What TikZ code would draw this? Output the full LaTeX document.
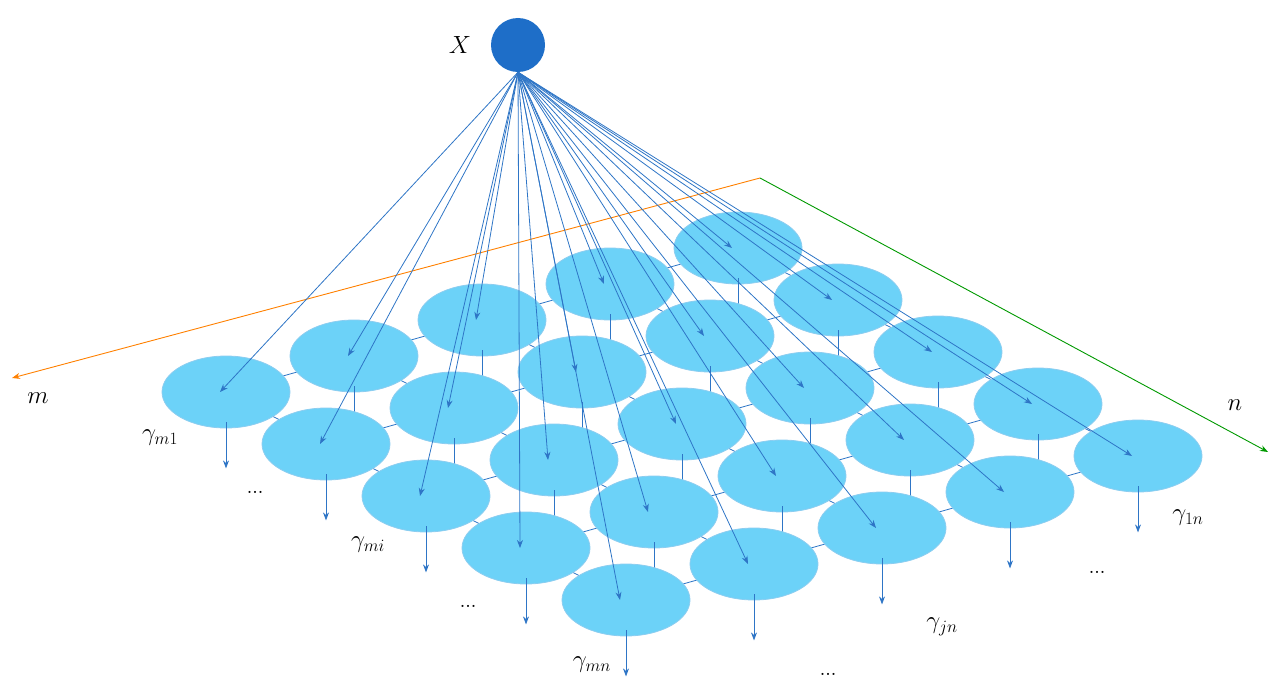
\documentclass[tikz,border=0pt]{standalone}
\usetikzlibrary{shapes.geometric,arrows.meta}
\definecolor{ab}{RGB}{46,117,198}
\definecolor{cf}{RGB}{108,210,248}
\definecolor{cd}{RGB}{140,205,240}
\definecolor{xb}{RGB}{30,110,200}
\begin{document}
\begin{tikzpicture}[x=1pt,y=-1pt,
  cell/.style={ellipse,minimum width=128pt,minimum height=72pt,fill=cf,draw=cd,line width=0.8pt,inner sep=0pt},
  arr/.style={draw=ab,line width=0.8pt,-{Stealth[length=8pt,width=6pt]}},
  gl/.style={draw=ab,line width=0.8pt},
  lab/.style={font=\fontsize{26}{30}\selectfont}]
\useasboundingbox (0,0) rectangle (1280,693);
\coordinate (O) at (760,178);
\coordinate (M) at (12,378);
\coordinate (N) at (1268,452);
\draw[orange,line width=0.9pt,-{Stealth[length=8pt,width=6pt]}] (O) -- (M);
\draw[green!60!black,line width=0.9pt,-{Stealth[length=8pt,width=6pt]}] (O) -- (N);
\foreach \i in {0,...,4}{\foreach \j in {0,...,4}{
  \coordinate (c-\i-\j) at ({738-128*\i+100*\j},{248+36*\i+52*\j});}}
\foreach \i in {0,...,4}{\draw[gl] (c-\i-0) -- (c-\i-4); \draw[gl] (c-0-\i) -- (c-4-\i);}
\foreach \i in {0,...,4}{\foreach \j in {0,...,4}{
  \node[cell] (e-\i-\j) at (c-\i-\j) {};
  \draw[arr] ([yshift=6pt]e-\i-\j.south) -- ++(0,46);}}
\node[circle,fill=xb,minimum size=54pt,inner sep=0pt] (X) at (518,45) {};
\node[lab] (xl) at (460,45) {$X$};
\foreach \i in {0,...,4}{\foreach \j in {0,...,4}{
  \draw[arr] (X.south) -- ([xshift=-6pt]e-\i-\j.center);}}
\node[lab] (lm) at (38,398) {$m$};
\node[lab] (ln) at (1235,405) {$n$};
\node[lab] (g1) at (160,438) {$\gamma_{m1}$};
\node[lab] (g2) at (368,545) {$\gamma_{mi}$};
\node[lab] (g3) at (592,665) {$\gamma_{mn}$};
\node[lab] (g4) at (942,627) {$\gamma_{jn}$};
\node[lab] (g5) at (1188,518) {$\gamma_{1n}$};
\node[lab] (d1) at (255,492) {.\kern-1pt.\kern-1pt.};
\node[lab] (d2) at (468,606) {.\kern-1pt.\kern-1pt.};
\node[lab] (d3) at (828,674) {.\kern-1pt.\kern-1pt.};
\node[lab] (d4) at (1097,572) {.\kern-1pt.\kern-1pt.};
\end{tikzpicture}
\end{document}
